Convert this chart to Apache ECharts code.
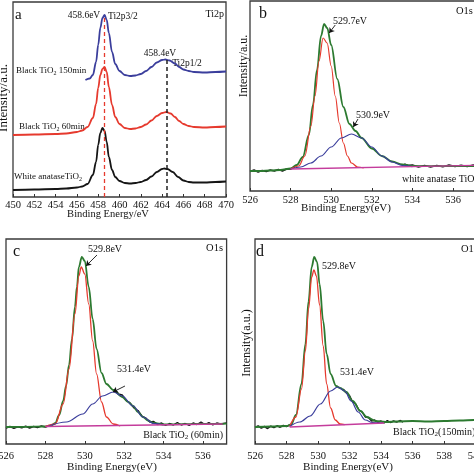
<!DOCTYPE html>
<html><head><meta charset="utf-8">
<script src="https://cdn.jsdelivr.net/npm/echarts@6/dist/echarts.min.js"></script>
<style>html,body{margin:0;padding:0;background:#fff}#c{width:474px;height:474px}</style>
</head><body><div id="c"></div>
<script>
// ---------- Panel a : Ti2p spectra [binding energy eV, intensity a.u.] ----------
const aWhite = [[450,7],[452,7.5],[454,8],[455,8.5],[456,9.5],[456.5,10.5],[457,13],[457.5,22],[457.8,35],[458.0,52],[458.2,64],[458.4,69],[458.6,66],[458.8,55],[459.0,40],[459.3,27],[459.6,20],[460,16],[460.5,14],[461,13.5],[461.5,14],[462,15],[462.5,17],[463,20.5],[463.5,25],[464,28],[464.2,28.5],[464.5,28],[465,25],[465.5,20],[466,16.5],[466.5,15],[467,14.5],[468,14.5],[469,15],[470,15.5]];
const a60min = [[450,62],[452,62.5],[454,63],[455,63.5],[456,65],[456.5,66.5],[457,70],[457.5,79],[457.8,93],[458.0,109],[458.2,122],[458.4,128],[458.6,130],[458.8,125],[459.0,110],[459.3,92],[459.6,80],[460,73],[460.5,69],[461,68],[461.5,68.5],[462,70],[462.5,72.5],[463,76.5],[463.5,81],[464,84],[464.4,85],[464.8,83.5],[465.2,80],[465.6,76],[466,73],[466.5,71],[467,70],[468,69.5],[469,70],[470,70.5]];
const a150min = [[456.8,117],[457.2,118.5],[457.5,122],[457.8,135],[458.0,152],[458.2,169],[458.4,179],[458.6,182],[458.8,177],[459.0,164],[459.3,145],[459.6,133],[460,126],[460.5,122],[461,121],[461.5,121.5],[462,123],[462.5,126],[463,130],[463.5,134.5],[464,137],[464.3,137.5],[464.7,136.5],[465.2,133.5],[465.6,130],[466,127.5],[466.5,126],[467,125],[468,124.5],[469,125],[470,125.5]];
const aDashE = [458.6, 464.4];
const aDashTop = [180, 137];

// ---------- Panel b : O1s white anatase ----------
const bBlackL = [[526,19.5],[526.2,21],[526.4,19],[526.6,20.5],[526.8,19.5],[527,21],[527.2,20],[527.4,21.5],[527.6,20],[527.8,22],[528,22],[528.2,24]];
const bBlackR = [[533.6,27],[533.8,25.5],[534,26],[534.3,24],[534.6,25.5],[534.9,24],[535.2,25.5],[535.5,24.2],[535.8,26],[536.1,24.5],[536.4,25.8],[536.7,24.5],[537,26],[537.3,25],[537.6,26],[538,25]];
const bFit = [[526,20],[526.5,20],[527,20.5],[527.5,21],[528,22.5],[528.3,26],[528.6,34],[528.9,56],[529.1,86],[529.3,121],[529.5,155],[529.65,167],[529.8,163],[530.0,146],[530.3,112],[530.6,84],[530.9,67],[531.2,60],[531.5,53],[532,42.5],[532.5,35],[533,29.5],[533.5,26.5],[534,25],[535,24.8],[536,25],[537,25],[538,25]];
const bPeak1 = [[528,22],[528.4,25],[528.7,35],[529.0,65],[529.2,95],[529.4,130],[529.6,153],[529.8,148],[530.0,125],[530.2,95],[530.4,68],[530.6,48],[530.8,35],[531.0,28],[531.3,24],[531.6,23]];
const bPeak2 = [[528,22],[528.5,24],[529,28],[529.5,35],[530,44],[530.5,53],[531,57],[531.5,53],[532,44],[532.5,35],[533,29],[533.5,25.5],[534,24.4]];
const bBase = [[528,22],[538,26]];
const bArrows = [[[530.2,166],[529.9,158]],[[531.32,72],[531.09,64]]];

// ---------- Panel c : O1s black TiO2 60 min ----------
const cBlackL = [[526,16],[526.2,17.5],[526.4,15.8],[526.6,17.2],[526.8,16.2],[527,17.8],[527.2,16],[527.4,17.5],[527.6,16.5],[527.8,18],[528,17],[528.2,18.5]];
const cBlackR = [[531.5,55],[531.7,50],[531.9,49],[532.1,43.5],[532.3,41],[532.5,36],[532.7,33.5],[532.9,28],[533.1,26],[533.3,22],[533.5,22.5],[533.7,19.5],[533.9,21],[534.1,18.5],[534.3,20.5],[534.5,19],[534.7,21.5],[534.9,19],[535.1,20.5],[535.3,18.5],[535.5,21],[535.7,19.5],[535.9,22],[536.1,19.5],[536.3,21.5],[536.5,19],[536.7,21],[536.9,20],[537.2,21]];
const cFit = [[526,17],[527,17.2],[528,17.5],[528.3,18.5],[528.5,21],[528.7,29],[528.9,43],[529.05,58],[529.2,79],[529.35,105],[529.5,137],[529.6,157],[529.7,177],[529.85,187],[530.0,183],[530.2,157],[530.4,125],[530.6,95],[530.85,71],[531.1,60],[531.45,54],[531.9,47],[532.2,42],[532.45,38],[532.7,32],[532.95,27],[533.2,23.5],[533.5,21],[534,19.5],[535,19.8],[536,20],[537.2,20.3]];
const cPeak1 = [[528,17.5],[528.5,20],[528.9,40],[529.2,75],[529.5,130],[529.7,168],[529.82,177],[530.0,170],[530.2,140],[530.4,103],[530.6,70],[530.85,42],[531.1,27],[531.45,20],[531.8,18]];
const cPeak2 = [[528.1,17.5],[529.07,22],[529.9,30],[530.4,40],[530.9,48],[531.45,52],[531.9,48],[532.45,38],[532.95,27],[533.5,20.5],[534.0,19.2]];
const cBase = [[528,17.5],[537,20]];
const cArrows = [[[530.62,189],[530.06,178]],[[532.04,58],[531.43,52]]];

// ---------- Panel d : O1s black TiO2 150 min ----------
const dBlackL = [[526,16.5],[526.2,18],[526.4,16],[526.6,17.5],[526.8,15.5],[527,17.8],[527.2,16.5],[527.4,18.2],[527.6,16.8],[527.8,18.5],[528,17.5],[528.2,19]];
const dBlackR = [[531.6,55],[531.8,51],[532,48.5],[532.2,42],[532.4,40],[532.6,34],[532.8,32],[533,27],[533.2,26.5],[533.4,23],[533.6,24],[533.8,21.5],[534,23],[534.2,21],[534.4,23.5],[534.6,21.5],[534.8,23],[535,21.8],[535.2,23.5],[535.4,22]];
const dFit = [[526,17],[527,17.5],[528,18],[528.3,19.5],[528.6,29],[528.95,60],[529.2,100],[529.4,143],[529.6,177],[529.76,187],[529.94,182],[530.1,160],[530.33,123],[530.55,90],[530.8,70],[531.15,58],[531.4,56],[531.8,52],[532.2,43],[532.7,33],[533.1,27],[533.65,23],[534.3,22],[535,22.5],[536,23],[537,22.5],[538,23],[539,23.5],[540,24],[542,24]];
const dPeak1 = [[528.2,17.5],[528.6,27],[528.95,55],[529.2,93],[529.4,135],[529.6,167],[529.74,174],[529.9,168],[530.1,139],[530.33,98],[530.55,60],[530.8,36],[531.1,24],[531.4,20],[531.7,19.3]];
const dPeak2 = [[528.2,17.5],[528.85,22],[529.5,28],[530.15,40],[530.8,53],[531.25,57],[531.7,53],[532.1,43],[532.55,32],[533.0,24],[533.45,21.5],[534.1,21]];
const dBase = [[528.2,17],[534.2,21]];

// axis ranges [min, max, interval]
const aRange = [450, 470, 2];
const bRange = [526, 538, 2];
const cRange = [526, 537.2, 2];
const dRange = [526, 542, 2];

// ---------- styling ----------
const SERIF = '"Liberation Serif", "Times New Roman", serif';
const GREEN = '#2c7a30', RED = '#e63a2e', BLUE = '#3b3e9c', MAG = '#c43c9c', BLK = '#151515';

const grids = [
  {left:13, top:2, width:213, height:195},
  {left:250, top:1, width:243.6, height:190},
  {left:6, top:239, width:220.6, height:205},
  {left:255, top:239, width:252, height:205}
].map(g => Object.assign(g, {show:true, borderColor:'#3a3a3a', borderWidth:1.3, backgroundColor:'transparent', containLabel:false, outerBoundsMode:'none'}));

function xAx(i, r, margin, extra) {
  return Object.assign({
    type:'value', gridIndex:i, min:r[0], max:r[1], interval:r[2],
    axisLine:{show:false}, splitLine:{show:false},
    axisTick:{show:true, inside:true, length:3, lineStyle:{color:'#333', width:1}},
    axisLabel:{fontFamily:SERIF, fontSize:10.5, color:'#111', margin:margin}
  }, extra || {});
}
const yMax = [195, 190, 205, 205];
const yAxes = yMax.map((m, i) => ({type:'value', gridIndex:i, min:0, max:m, show:false}));

function ln(i, data, color, width, smooth, extra) {
  return Object.assign({
    type:'line', xAxisIndex:i, yAxisIndex:i, data:data, symbol:'none', showSymbol:false,
    smooth: smooth, smoothMonotone:'x', silent:true, animation:false,
    lineStyle:{color:color, width:width}
  }, extra || {});
}
function arrows(list) {
  return {silent:true, symbol:['none','arrow'], symbolSize:5, animation:false,
    label:{show:false}, lineStyle:{color:'#111', width:0.9, type:'solid'},
    data: list.map(p => [{coord:p[0]}, {coord:p[1]}])};
}

const series = [
  ln(0, aWhite, BLK, 1.8, 0.35, {markLine:{silent:true, symbol:['none','none'], animation:false, label:{show:false},
    data:[
      [{coord:[aDashE[0],0], lineStyle:{color:RED, type:[4,3], width:1.3}}, {coord:[aDashE[0],aDashTop[0]]}],
      [{coord:[aDashE[1],0], lineStyle:{color:'#222', type:[4,3], width:1.5}}, {coord:[aDashE[1],aDashTop[1]]}]
    ]}}),
  ln(0, a60min, RED, 1.8, 0.35),
  ln(0, a150min, BLUE, 1.8, 0.35),

  ln(1, bBlackL, BLK, 1.5, false),
  ln(1, bBlackR, BLK, 1.4, false),
  ln(1, bFit, GREEN, 1.8, 0.35),
  ln(1, bPeak1, RED, 1.2, 0.35),
  ln(1, bPeak2, BLUE, 1.2, 0.35),
  ln(1, bBase, MAG, 1.3, false, {markLine: arrows(bArrows)}),

  ln(2, cBlackL, BLK, 1.5, false),
  ln(2, cBlackR, BLK, 1.4, false),
  ln(2, cFit, GREEN, 1.8, 0.35),
  ln(2, cPeak1, RED, 1.3, 0.35),
  ln(2, cPeak2, BLUE, 1.2, 0.35),
  ln(2, cBase, MAG, 1.3, false, {markLine: arrows(cArrows)}),

  ln(3, dBlackL, BLK, 1.5, false),
  ln(3, dBlackR, BLK, 1.4, false),
  ln(3, dFit, GREEN, 1.8, 0.35),
  ln(3, dPeak1, RED, 1.3, 0.35),
  ln(3, dPeak2, BLUE, 1.2, 0.35),
  ln(3, dBase, MAG, 1.3, false)
];

function T(x, y, text, size, align, extra) {
  return Object.assign({
    type:'text', x:x, y:y, silent:true,
    style:{text:text, font: size + 'px ' + SERIF, fill:'#111', align:align || 'left', verticalAlign:'middle',
      rich:{s:{font: Math.round(size*0.65) + 'px ' + SERIF, fill:'#111', verticalAlign:'bottom', padding:[4,0,0,0]}}}
  }, extra || {});
}
function V(x, y, text, size) {
  return T(x, y, text, size, 'center', {rotation: Math.PI/2});
}

const texts = [
  // panel a
  T(15, 15, 'a', 15), T(84, 15, '458.6eV', 9.5, 'center'), T(108, 16, 'Ti2p3/2', 9.5),
  T(224, 14, 'Ti2p', 10, 'right'), T(160, 53, '458.4eV', 9.5, 'center'), T(187, 63, 'Ti2p1/2', 9.5, 'center'),
  T(16, 71, 'Black TiO{s|2} 150min', 9), T(19, 127, 'Black TiO{s|2} 60min', 9), T(14, 177, 'White anataseTiO{s|2}', 9),
  T(108, 214, 'Binding Energy/eV', 10.5, 'center'), V(4, 98, 'Intensity/a.u.', 13),
  // panel b
  T(259, 14, 'b', 16), T(350, 21, '529.7eV', 10, 'center'), T(373, 115, '530.9eV', 10, 'center'),
  T(456, 11, 'O1s', 10.5), T(478, 179, 'white anatase TiO{s|2}', 10, 'right'),
  T(346, 208, 'Binding Energy(eV)', 11, 'center'), V(244, 66, 'Intensity/a.u.', 12),
  // panel c
  T(13, 252, 'c', 16), T(105, 249, '529.8eV', 10, 'center'), T(134, 369, '531.4eV', 10, 'center'),
  T(223, 248, 'O1s', 10.5, 'right'), T(223, 435, 'Black TiO{s|2} (60min)', 10, 'right'),
  T(112, 467, 'Binding Energy(eV)', 11, 'center'),
  // panel d
  T(256, 252, 'd', 16), T(339, 266, '529.8eV', 10, 'center'), T(357, 372, '531.4eV', 10, 'center'),
  T(461, 249, 'O1s', 10.5), T(393, 432, 'Black TiO{s|2}(150min)', 10),
  T(348, 467, 'Binding Energy(eV)', 11, 'center'), V(247, 343, 'Intensity(a.u.)', 12)
];

const chart = echarts.init(document.getElementById('c'), null, {renderer:'canvas'});
chart.setOption({
  animation:false,
  backgroundColor:'#ffffff',
  grid: grids,
  xAxis: [xAx(0, aRange, 3), xAx(1, bRange, 4), xAx(2, cRange, 7, {axisLabel:{fontFamily:SERIF, fontSize:10.5, color:'#111', margin:7, showMaxLabel:false}}), xAx(3, dRange, 7)],
  yAxis: yAxes,
  series: series,
  graphic: texts
});
</script></body></html>
